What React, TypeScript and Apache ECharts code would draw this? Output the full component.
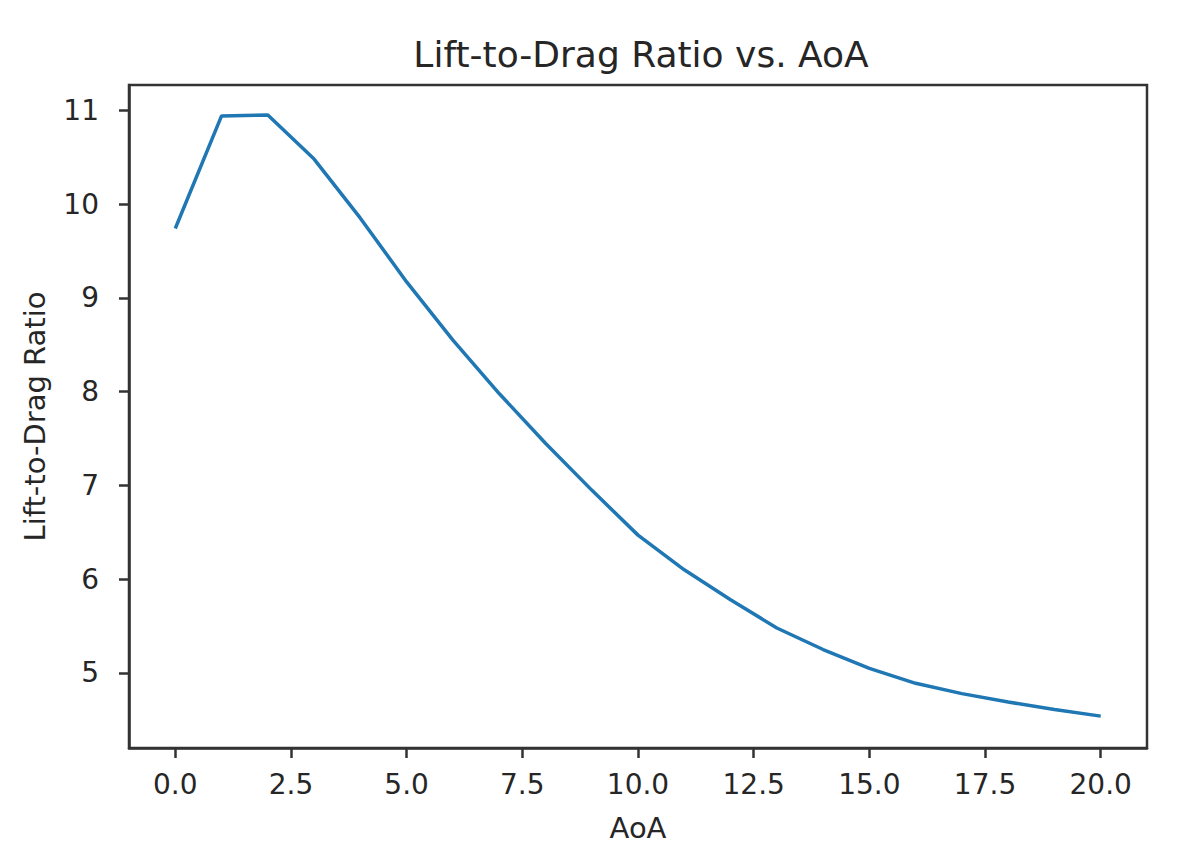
import * as echarts from 'echarts';
import { useEffect, useRef } from 'react';

const aoa = [0, 1, 2, 3, 4, 5, 6, 7, 8, 9, 10, 11, 12, 13, 14, 15, 16, 17, 18, 19, 20];
const liftToDrag = [
  9.74, 10.94, 10.95, 10.48, 9.85, 9.17, 8.55, 7.98, 7.45, 6.95, 6.47,
  6.1, 5.78, 5.48, 5.25, 5.05, 4.89, 4.78, 4.69, 4.61, 4.54,
];
const xTicks = [0, 2.5, 5, 7.5, 10, 12.5, 15, 17.5, 20];
const yTicks = [5, 6, 7, 8, 9, 10, 11];

const FONT = 'DejaVu Sans';
const TEXT = '#262626';
const SPINE = '#333333';

export default function App() {
  const chartRef = useRef<HTMLDivElement>(null);

  useEffect(() => {
    if (!chartRef.current) return;
    const chart = echarts.init(chartRef.current, undefined, { renderer: 'svg' });

    const option: echarts.EChartsOption = {
      animation: false,
      backgroundColor: '#ffffff',
      title: {
        text: 'Lift-to-Drag Ratio vs. AoA',
        left: 636,
        top: 31,
        textAlign: 'center',
        textStyle: { fontFamily: FONT, fontSize: 36, fontWeight: 'normal', color: TEXT },
      },
      grid: {
        left: 129,
        right: 49,
        top: 85,
        bottom: 120,
        show: true,
        borderColor: SPINE,
        borderWidth: 2.5,
        backgroundColor: 'transparent',
      },
      xAxis: {
        type: 'value',
        min: -1,
        max: 21,
        name: 'AoA',
        nameLocation: 'middle',
        nameGap: 65,
        nameTextStyle: { fontFamily: FONT, fontSize: 29, color: TEXT },
        axisLine: { show: true, onZero: false, lineStyle: { color: SPINE, width: 2.5 } },
        splitLine: { show: false },
        axisTick: {
          show: true,
          length: 10,
          customValues: xTicks,
          lineStyle: { color: SPINE, width: 2.5 },
        },
        axisLabel: {
          customValues: xTicks,
          margin: 22,
          fontFamily: FONT,
          fontSize: 28,
          color: TEXT,
          formatter: (v: number) => v.toFixed(1),
        },
      },
      yAxis: {
        type: 'value',
        min: 4.2,
        max: 11.27,
        name: 'Lift-to-Drag Ratio',
        nameLocation: 'middle',
        nameGap: 80,
        nameTextStyle: { fontFamily: FONT, fontSize: 29, color: TEXT },
        axisLine: { show: true, onZero: false, lineStyle: { color: SPINE, width: 2.5 } },
        splitLine: { show: false },
        axisTick: {
          show: true,
          length: 10,
          customValues: yTicks,
          lineStyle: { color: SPINE, width: 2.5 },
        },
        axisLabel: {
          customValues: yTicks,
          margin: 30,
          fontFamily: FONT,
          fontSize: 28,
          color: TEXT,
        },
      },
      series: [
        {
          type: 'line',
          data: aoa.map((x, i) => [x, liftToDrag[i]]),
          showSymbol: false,
          lineStyle: { color: '#1f77b4', width: 3.5 },
          itemStyle: { color: '#1f77b4' },
        },
      ],
    };

    chart.setOption(option);
    return () => {
      chart.dispose();
    };
  }, []);

  return (
    <div
      ref={chartRef}
      style={{ position: 'fixed', left: 0, top: 0, width: 1196, height: 868 }}
    />
  );
}
